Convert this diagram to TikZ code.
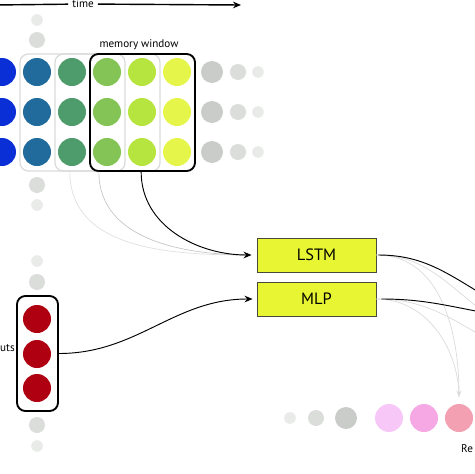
\documentclass[tikz,border=0pt]{standalone}
\usepackage{fontspec}
\setmainfont{PT Sans}
\definecolor{tblue}{HTML}{0B2FD6}
\definecolor{tsteel}{HTML}{216B9C}
\definecolor{tteal}{HTML}{4E9B6B}
\definecolor{tgreen}{HTML}{84C356}
\definecolor{tlime}{HTML}{B7E53F}
\definecolor{tyellow}{HTML}{E6F54A}
\definecolor{fadeA}{HTML}{C9CCC9}
\definecolor{fadeB}{HTML}{DADDDA}
\definecolor{fadeC}{HTML}{E9EBE9}
\definecolor{wingray}{HTML}{D9DBD9}
\definecolor{netyellow}{HTML}{E8F532}
\definecolor{netedge}{HTML}{4A4A3A}
\definecolor{inred}{HTML}{AE0010}
\definecolor{pinkA}{HTML}{F7C8F7}
\definecolor{pinkB}{HTML}{F5A8E3}
\definecolor{pinkC}{HTML}{F3A0B2}
\usepackage{tikz}
\usetikzlibrary{positioning,arrows.meta}

\begin{document}
\begin{tikzpicture}[
  x=0.03cm, y=-0.03cm,
  font=\fontsize{9.5}{11}\selectfont,
  dotL/.style={circle, inner sep=0pt, minimum size=0.84cm},
  dotM/.style={circle, inner sep=0pt, minimum size=0.66cm},
  dotS/.style={circle, inner sep=0pt, minimum size=0.48cm},
  dotXS/.style={circle, inner sep=0pt, minimum size=0.35cm},
  win/.style={draw=wingray, line width=1.1pt, rounded corners=0.25cm, minimum width=3.15cm, minimum height=3.51cm, inner sep=0pt},
  memwin/.style={win, draw=black, line width=1.6pt},
  net/.style={draw=netedge, line width=0.8pt, fill=netyellow, minimum width=3.57cm, minimum height=1.02cm, font=\fontsize{14}{16}\selectfont},
  arr/.style={-{Stealth[length=2.4mm, width=2mm]}, line width=0.8pt},
  faint/.style={line width=0.6pt},
]
  \useasboundingbox (0,0) rectangle (474,474);
  % time axis
  \coordinate (tstart) at (-5,5);
  \coordinate (tend) at (241,5);
  \node (timelbl) at (83,4) {time};
  \draw[line width=1.2pt] (tstart) -- (timelbl);
  \draw[arr, line width=1.2pt] (timelbl) -- (tend);
  % sliding windows
  \node[win] (wA) at (72.5,112.5) {};
  \node[win] (wB) at (107.5,112.5) {};
  \node (memlbl) at (139,45) {memory window};
  % series
  \node[dotL, fill=tblue]   (a1) at (2,72)   {}; \node[dotL, fill=tblue]   (a2) at (2,112)   {}; \node[dotL, fill=tblue]   (a3) at (2,152)   {};
  \node[dotL, fill=tsteel]  (b1) at (37,72)  {}; \node[dotL, fill=tsteel]  (b2) at (37,112)  {}; \node[dotL, fill=tsteel]  (b3) at (37,152)  {};
  \node[dotL, fill=tteal]   (c1) at (72,72)  {}; \node[dotL, fill=tteal]   (c2) at (72,112)  {}; \node[dotL, fill=tteal]   (c3) at (72,152)  {};
  \node[dotL, fill=tgreen]  (d1) at (107,72) {}; \node[dotL, fill=tgreen]  (d2) at (107,112) {}; \node[dotL, fill=tgreen]  (d3) at (107,152) {};
  \node[dotL, fill=tlime]   (e1) at (142,72) {}; \node[dotL, fill=tlime]   (e2) at (142,112) {}; \node[dotL, fill=tlime]   (e3) at (142,152) {};
  \node[dotL, fill=tyellow] (f1) at (177,72) {}; \node[dotL, fill=tyellow] (f2) at (177,112) {}; \node[dotL, fill=tyellow] (f3) at (177,152) {};
  \node[dotM, fill=fadeA] (g1) at (212,72) {}; \node[dotM, fill=fadeA] (g2) at (212,112) {}; \node[dotM, fill=fadeA] (g3) at (212,152) {};
  \node[dotS, fill=fadeB] (h1) at (238,72) {}; \node[dotS, fill=fadeB] (h2) at (238,112) {}; \node[dotS, fill=fadeB] (h3) at (238,152) {};
  \node[dotXS, fill=fadeC] (k1) at (258,72) {}; \node[dotXS, fill=fadeC] (k2) at (258,112) {}; \node[dotXS, fill=fadeC] (k3) at (258,152) {};
  \node[dotXS, fill=fadeC] (up2) at (37,20) {}; \node[dotS, fill=fadeB] (up1) at (37,40) {};
  \node[dotS, fill=fadeB] (dn1) at (37,185) {}; \node[dotXS, fill=fadeC] (dn2) at (37,205) {};
  \node[memwin] (wC) at (142.5,112.5) {};
  % inputs
  \node[memwin, minimum width=1.23cm, minimum height=3.45cm] (inbox) at (37.5,353.5) {};
  \node[dotL, fill=inred] (r1) at (37,319) {};
  \node[dotL, fill=inred] (r2) at (37,354) {};
  \node[dotL, fill=inred] (r3) at (37,388) {};
  \node[dotXS, fill=fadeC] (iu2) at (37,261) {}; \node[dotS, fill=fadeB] (iu1) at (37,282) {};
  \node[dotS, fill=fadeB] (id1) at (37,425) {}; \node[dotXS, fill=fadeC] (id2) at (37,446) {};
  \node[anchor=west, inner sep=0pt] (inlbl) at (0,348) {uts};
  % models
  \node[net] (lstm) at (316.5,255) {LSTM};
  \node[net] (mlp) at (316.5,299) {MLP};
  % outputs
  \node[dotXS, fill=fadeC] (o1) at (290,418) {};
  \node[dotS, fill=fadeB] (o2) at (316,418) {};
  \node[dotM, fill=fadeA] (o3) at (346,418) {};
  \node[dotL, fill=pinkA] (p1) at (389,418) {};
  \node[dotL, fill=pinkB] (p2) at (424,418) {};
  \node[dotL, fill=pinkC] (p3) at (459,418) {};
  \node[anchor=west, inner sep=0pt] (outlbl) at (461,449) {Re};
  \coordinate (exA) at (492,300);
  \coordinate (exB) at (492,318);
  \coordinate (exC) at (492,314);
  \coordinate (exD) at (492,342);
  % connectors
  \draw[faint, draw=black!12, shorten >=0.2cm] ([xshift=-0.08cm]wA.south) to[out=-90, in=180] (lstm.west);
  \draw[faint, draw=black!22, shorten >=0.2cm] ([xshift=-0.26cm]wB.south) to[out=-90, in=180] (lstm.west);
  \draw[arr] ([xshift=-0.04cm]wC.south) to[out=-90, in=180] ([xshift=-0.15cm]lstm.west);
  \draw[arr] (inbox.east) to[out=0, in=180] ([xshift=-0.12cm]mlp.west);
  \draw[faint, draw=black!14] (lstm.east) to[out=0, in=145] (exB);
  \draw[faint, draw=black!14] (mlp.east) to[out=0, in=150] (exD);
  \draw[faint, draw=black!14, -{Stealth[length=2mm]}, shorten >=0.2cm] (lstm.east) to[out=0, in=90] (p3.north);
  \draw[faint, draw=black!14, shorten >=0.2cm] (mlp.east) to[out=0, in=90] (p3.north);
  \draw[line width=0.8pt] ([xshift=0.06cm]lstm.east) to[out=0, in=150] (exA);
  \draw[line width=0.8pt] ([xshift=0.15cm]mlp.east) to[out=0, in=170] (exC);
\end{tikzpicture}
\end{document}
